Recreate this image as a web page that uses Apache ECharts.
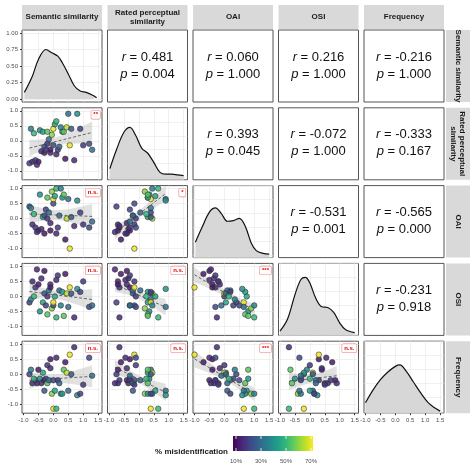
<!DOCTYPE html>
<html><head><meta charset="utf-8">
<script src="https://cdn.jsdelivr.net/npm/echarts@6/dist/echarts.min.js"></script>
<style>html,body{margin:0;padding:0;background:#fff}#c{width:474px;height:473px}</style>
</head><body><div id="c"></div>
<script>
const varNames = ['Semantic similarity','Rated perceptual\nsimilarity','OAI','OSI','Frequency'];
const sem  = [-0.8,-0.75,-0.7,-0.6,-0.5,-0.45,-0.4,-0.35,-0.3,-0.3,-0.25,-0.2,-0.2,-0.15,-0.1,-0.1,-0.05,0,0,0.05,0.1,0.1,0.15,0.2,0.25,0.3,0.35,0.4,0.45,0.5,0.55,0.6,0.7,0.8,0.9,1.0,1.2,1.3,-0.55,-0.65];
const perc = [-0.75,0.4,-0.7,-0.65,-0.7,0.35,-0.35,0.3,-0.4,-0.2,-0.3,0.3,-0.1,0.05,-0.4,-0.3,0.2,-0.15,0.4,0.55,-0.45,0.65,-0.3,-0.2,0.45,0.3,0.3,-0.6,0.45,0.9,-0.15,0.4,-0.65,0.9,0.4,-0.15,-0.1,-0.3,-0.8,0.25];
const oai  = [0.4,0.35,-0.2,-0.3,-0.4,0.8,-0.35,0.05,-0.5,0.1,0.3,0.7,0.0,0.2,-0.15,-0.4,0.9,0.5,0.65,0.75,-0.5,1.0,-0.3,0.1,1.0,0.7,0.8,-0.7,0.0,0.65,-1.0,0.05,-0.25,0.6,0.2,-0.2,-0.3,-0.1,-0.45,0.15];
const osi  = [-0.2,-0.1,0.5,0.3,0.4,-0.5,0.6,-0.2,0.85,0.1,-0.3,-0.6,0.0,0.2,0.4,0.3,-0.4,-0.3,-0.2,0.0,0.55,-0.7,0.7,0.2,-0.3,0.15,-0.65,0.75,0.1,-0.35,0.3,0.1,-0.7,0.25,0.15,0.5,-0.35,-0.3,0.9,0.0];
const freq = [0,0.15,-0.3,-0.2,0.15,-0.15,-0.3,0.05,-0.2,-0.55,-0.15,-0.3,0.3,-0.2,0.2,0.5,-0.65,-0.2,-1.15,-0.55,0.55,-1.15,-0.2,-0.3,-0.65,-0.65,0.15,0.4,0.05,-0.55,0.65,0,0.9,-0.7,-0.65,-0.35,0.55,-0.05,-0.3,-0.15];
const misid = [20,35,15,18,12,40,15,45,12,25,20,55,18,30,15,12,60,22,70,45,15,50,18,28,35,42,55,12,65,30,70,25,15,40,20,18,22,30,15,50];
const dens = [
 [[-0.97,0.1],[-0.7,0.35],[-0.5,0.6],[-0.25,0.75],[-0.05,0.7],[0.15,0.65],[0.3,0.55],[0.5,0.38],[0.7,0.2],[0.9,0.12],[1.1,0.1],[1.3,0.06],[1.45,0.02]],
 [[-0.97,0.13],[-0.75,0.4],[-0.5,0.65],[-0.3,0.72],[-0.1,0.6],[0.1,0.42],[0.3,0.35],[0.5,0.22],[0.7,0.08],[0.9,0.05],[1.1,0.05],[1.3,0.04],[1.5,0.03]],
 [[-0.97,0.19],[-0.75,0.4],[-0.5,0.62],[-0.3,0.68],[-0.1,0.6],[0.1,0.49],[0.3,0.5],[0.5,0.53],[0.7,0.42],[0.9,0.18],[1.07,0.07],[1.3,0.03],[1.5,0.02]],
 [[-1,0.03],[-0.75,0.2],[-0.5,0.55],[-0.3,0.77],[-0.15,0.8],[0,0.72],[0.2,0.5],[0.4,0.38],[0.6,0.37],[0.8,0.3],[1.0,0.15],[1.2,0.05],[1.5,0.01]],
 [[-1,0.12],[-0.75,0.3],[-0.5,0.45],[-0.25,0.56],[0,0.64],[0.15,0.66],[0.35,0.58],[0.6,0.42],[0.85,0.26],[1.1,0.12],[1.3,0.05],[1.5,0.0]]
];
const rVals = {'0,1':'0.481','0,2':'0.060','0,3':'0.216','0,4':'-0.216','1,2':'0.393','1,3':'-0.072','1,4':'-0.333','2,3':'-0.531','2,4':'-0.565','3,4':'-0.231'};
const pVals = {'0,1':'0.004','0,2':'1.000','0,3':'1.000','0,4':'1.000','1,2':'0.045','1,3':'1.000','1,4':'0.167','2,3':'0.001','2,4':'0.000','3,4':'0.918'};
const sig = {'1,0':'**','2,0':'n.s.','2,1':'*','3,0':'n.s.','3,1':'n.s.','3,2':'***','4,0':'n.s.','4,1':'n.s.','4,2':'***','4,3':'n.s.'};
const legendTicks = ['10%','30%','50%','70%'];
const V = [sem,perc,oai,osi,freq];
const viridis = ['#440154','#482878','#3e4989','#31688e','#26828e','#1f9e89','#35b779','#6ece58','#b5de2b','#fde725'];

const FONT = 'Liberation Sans';
const L0 = 22, STEPX = 85.5, PW = 80, T0 = 30, STEPY = 77.8, PH = 72;
const grids = [], xAxes = [], yAxes = [], series = [], graphics = [], scatterIdx = [];
const gridLine = {show:true, lineStyle:{color:'#e6e6e6', width:0.6}};
function lr(x,y){
  const n=x.length; const mx=x.reduce((a,b)=>a+b)/n, my=y.reduce((a,b)=>a+b)/n;
  let sxx=0,sxy=0; for(let i=0;i<n;i++){sxx+=(x[i]-mx)**2;sxy+=(x[i]-mx)*(y[i]-my);}
  const b=sxy/sxx,a=my-b*mx; let sse=0; for(let i=0;i<n;i++) sse+=(y[i]-a-b*x[i])**2;
  const s=Math.sqrt(sse/(n-2)); return {a,b,mx,sxx,s,n};
}
let gi = 0;
for (let r=0;r<5;r++) for (let c=0;c<5;c++) {
  const left = L0 + c*STEPX, top = T0 + r*STEPY;
  if (c>r) {
    graphics.push({type:'rect', shape:{x:left,y:top,width:PW,height:PH}, style:{fill:'#fff',stroke:'#555',lineWidth:1}});
    const k=r+','+c;
    graphics.push({type:'text', x:left+PW/2, y:top+PH/2-9, style:{text:'{i|r} = '+rVals[k], font:'13px '+FONT, fill:'#111', align:'center', verticalAlign:'middle', rich:{i:{fontStyle:'italic',fontSize:13,fontFamily:FONT}}}});
    graphics.push({type:'text', x:left+PW/2, y:top+PH/2+8, style:{text:'{i|p} = '+pVals[k], font:'13px '+FONT, fill:'#111', align:'center', verticalAlign:'middle', rich:{i:{fontStyle:'italic',fontSize:13,fontFamily:FONT}}}});
    continue;
  }
  grids.push({left, top, width:PW, height:PH, show:true, borderColor:'#555', borderWidth:1, backgroundColor:'#fff'});
  const diag = r===c;
  xAxes.push({gridIndex:gi, type:'value', min:-1.05, max:1.63,
    axisLine:{show:false,onZero:false}, axisTick:{show:r===4, customValues:[-1,-0.5,0,0.5,1,1.5], length:2, lineStyle:{color:'#333'}},
    axisLabel:{show:r===4, customValues:[-1,-0.5,0,0.5,1,1.5], formatter:v=>v.toFixed(1), fontSize:6, color:'#4d4d4d', fontFamily:FONT, margin:4},
    splitLine:gridLine});
  if (diag && r===0) {
    yAxes.push({gridIndex:gi, type:'value', min:-0.046, max:1.046,
      axisLine:{show:false,onZero:false}, axisTick:{show:true,customValues:[0,0.25,0.5,0.75,1],length:2,lineStyle:{color:'#333'}},
      axisLabel:{customValues:[0,0.25,0.5,0.75,1], formatter:v=>v.toFixed(2), fontSize:6, color:'#4d4d4d', fontFamily:FONT, margin:4},
      splitLine:gridLine});
  } else if (diag) {
    yAxes.push({gridIndex:gi, type:'value', min:-0.03, max:1.0, axisLine:{show:false,onZero:false}, axisTick:{show:false}, axisLabel:{show:false},
      splitLine:gridLine});
  } else {
    yAxes.push({gridIndex:gi, type:'value', min:-1.3, max:1.1,
      axisLine:{show:false,onZero:false}, axisTick:{show:c===0,customValues:[-1,-0.5,0,0.5,1],length:2,lineStyle:{color:'#333'}},
      axisLabel:{show:c===0, customValues:[-1,-0.5,0,0.5,1], formatter:v=>v.toFixed(1), fontSize:6, color:'#4d4d4d', fontFamily:FONT, margin:4},
      splitLine:gridLine});
  }
  if (diag) {
    series.push({type:'line', xAxisIndex:gi, yAxisIndex:gi, data:dens[r], smooth:0.35, symbol:'none',
      lineStyle:{color:'#111', width:1.2}, areaStyle:{color:'#d3d3d3', opacity:0.9, origin: r===0?0:-0.03}});
  } else {
    const x=V[c], y=V[r]; const f=lr(x,y);
    const xmin=Math.min(...x), xmax=Math.max(...x); const pts=[];
    for(let i=0;i<=30;i++){const xx=xmin+(xmax-xmin)*i/30; const yy=f.a+f.b*xx;
      const se=2.02*f.s*Math.sqrt(1/f.n+(xx-f.mx)**2/f.sxx); pts.push([xx,yy-se,yy+se]);}
    series.push({type:'custom', xAxisIndex:gi, yAxisIndex:gi, data:[[0,0]], silent:true, z:1,
      renderItem:(params,api)=>{ const poly=[]; pts.forEach(p=>poly.push(api.coord([p[0],p[2]])));
        for(let i=pts.length-1;i>=0;i--) poly.push(api.coord([pts[i][0],pts[i][1]]));
        return {type:'polygon', shape:{points:poly}, style:{fill:'rgba(170,170,170,0.35)'}}; }});
    series.push({type:'line', xAxisIndex:gi, yAxisIndex:gi, data:[[xmin,f.a+f.b*xmin],[xmax,f.a+f.b*xmax]], symbol:'none', z:2,
      lineStyle:{color:'#666', width:1, type:[3,2]}});
    scatterIdx.push(series.length);
    series.push({type:'scatter', xAxisIndex:gi, yAxisIndex:gi, z:3, symbolSize:5.5,
      data:x.map((v,i)=>[v,y[i],misid[i]]), itemStyle:{borderColor:'#333', borderWidth:0.7, opacity:0.85}});
    const s=sig[r+','+c];
    graphics.push({type:'text', x:left+PW-2, y:top+3, z:10, style:{text:s, font:'bold 6px '+FONT, fill:'#e00000', align:'right', verticalAlign:'top',
      backgroundColor:'#fff', borderColor:'#f08080', borderWidth:0.6, borderRadius:1, padding:[1,2,1,2]}});
  }
  gi++;
}
for (let c=0;c<5;c++) {
  const left=L0+c*STEPX;
  graphics.push({type:'rect', shape:{x:left,y:5,width:PW,height:24}, style:{fill:'#d9d9d9'}});
  graphics.push({type:'text', x:left+PW/2, y:17, style:{text:varNames[c], font:'bold 8px '+FONT, fill:'#1a1a1a', align:'center', verticalAlign:'middle', lineHeight:9}});
}
for (let r=0;r<5;r++) {
  const top=T0+r*STEPY;
  graphics.push({type:'rect', shape:{x:446,y:top,width:24,height:PH}, style:{fill:'#d9d9d9'}});
  graphics.push({type:'text', x:458, y:top+PH/2, rotation:-Math.PI/2, style:{text:varNames[r], font:'bold 8px '+FONT, fill:'#1a1a1a', align:'center', verticalAlign:'middle', lineHeight:9}});
}
const stops = viridis.map((col,i)=>({offset:i/(viridis.length-1), color:col}));
graphics.push({type:'rect', shape:{x:233,y:436,width:80,height:15}, style:{fill:{type:'linear',x:0,y:0,x2:1,y2:0,colorStops:stops}}});
graphics.push({type:'text', x:228, y:452, style:{text:'% misidentification', font:'bold 8px '+FONT, fill:'#1a1a1a', align:'right', verticalAlign:'middle'}});
legendTicks.forEach((t,i)=>{
  const px = 233 + 1.25*(parseFloat(t)-10) + 3;
  graphics.push({type:'line', shape:{x1:px,y1:436,x2:px,y2:439}, style:{stroke:'#fff',lineWidth:0.8}});
  graphics.push({type:'line', shape:{x1:px,y1:448,x2:px,y2:451}, style:{stroke:'#fff',lineWidth:0.8}});
  graphics.push({type:'text', x:px, y:461, style:{text:t, font:'6px '+FONT, fill:'#4d4d4d', align:'center', verticalAlign:'middle'}});
});
const chart = echarts.init(document.getElementById('c'), null, {renderer:'canvas'});
chart.setOption({
  animation:false, backgroundColor:'#fff',
  grid:grids, xAxis:xAxes, yAxis:yAxes, series,
  visualMap:{show:false, type:'continuous', min:7.6, max:71.6, dimension:2, seriesIndex:scatterIdx, inRange:{color:viridis}},
  graphic:graphics
});
</script></body></html>
